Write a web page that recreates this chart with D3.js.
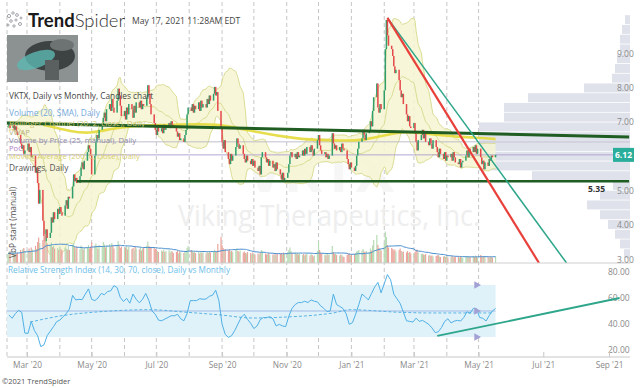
<!DOCTYPE html>
<html>
<head>
<meta charset="utf-8">
<script src="https://d3js.org/d3.v7.min.js"></script>
<style>
body { margin: 0; background: #fff; }
svg { display: block; font-family: "Open Sans", sans-serif; }
</style>
</head>
<body>
<div class="diagram"></div>
<script>
// daily closes, one row per week (first row starts Wed Feb 12 2020)
const closes = [
    6.95, 7.05, 6.90,
    7.00, 6.85, 6.95, 6.80, 6.70,
    6.45, 6.30, 6.40, 6.15, 6.25,
    6.45, 6.20, 6.35, 6.05, 6.10,
    5.60, 5.75, 5.30, 4.70, 5.10,
    4.20, 3.75, 3.60, 3.95, 3.70,
    3.85, 4.30, 4.15, 4.45, 4.25,
    4.55, 4.40, 4.60, 4.45, 4.35,
    4.65, 4.80, 4.55, 4.90, 4.85,
    5.20, 5.55, 5.35, 5.45, 5.30,
    5.50, 5.75, 5.90, 5.70, 5.95,
    6.20, 6.40, 6.30, 6.10, 5.55,
    6.10, 6.50, 6.70, 6.60, 6.85,
    6.95, 7.20, 7.35, 7.10, 7.45,
    7.60, 7.40, 7.75, 7.50, 7.35,
    7.70, 8.05, 7.85, 7.55, 7.25,
    7.40, 7.15, 7.50, 7.30, 7.60,
    7.45, 7.20, 7.55, 7.35, 7.65,
    7.50, 7.70, 7.45, 7.60, 7.55,
    7.80, 8.15, 7.90, 7.60, 7.30,
    7.05, 6.85, 6.70, 6.95, 6.80,
    6.90, 6.75, 7.00, 6.85, 6.95,
    7.05, 6.90, 7.10, 7.00, 6.95,
    6.80, 6.65, 6.75, 6.55, 6.60,
    6.50, 6.70, 6.85, 7.30, 7.50,
    7.40, 7.60, 7.35, 7.55, 7.45,
    7.65, 7.40, 7.70, 7.50, 7.60,
    7.50, 7.75, 7.60, 7.85, 7.70,
    7.90, 8.10, 7.85, 7.95, 7.40,
    6.90, 6.50, 6.30, 6.55, 6.20,
    6.00, 5.85, 6.15, 5.95, 6.10,
    6.35, 6.60, 6.45, 6.30, 6.40,
    6.15, 6.00, 5.90, 6.10, 5.95,
    5.85, 6.00, 5.80, 5.95, 5.75,
    5.65, 5.80, 5.55, 6.05, 6.20,
    6.05, 5.90, 6.00, 5.80, 5.95,
    5.75, 5.85, 5.65, 5.90, 5.70,
    5.55, 5.40, 5.60, 5.35, 5.45,
    5.60, 5.85, 6.10, 6.20, 6.05,
    6.15, 6.00, 6.20, 6.05, 6.10,
    6.25, 6.10, 6.30, 6.15, 6.35,
    6.20, 6.40, 6.25, 6.10, 6.30,
    6.55, 6.70, 6.40, 6.25, 6.15,
    6.20, 6.05, 6.15, 6.00, 6.10,
    6.75, 6.45, 6.30, 6.40, 6.25,
    6.35, 6.20, 6.45, 6.30, 6.25,
    6.00, 5.85, 5.70, 5.90, 5.75,
    5.65, 5.80, 6.10, 6.30, 6.50,
    6.60, 6.85, 6.70, 6.55, 6.75,
    6.80, 7.10, 6.95, 7.40, 7.80,
    8.20, 7.50, 7.35, 7.60, 7.45,
    8.00, 9.20, 10.05, 9.60, 9.30,
    9.20, 9.00, 8.70, 8.50, 8.60,
    8.30, 8.00, 7.80, 7.90, 7.60,
    7.30, 7.10, 7.25, 6.95, 6.90,
    7.05, 6.75, 6.50, 6.25, 6.55,
    6.70, 6.85, 6.60, 6.75, 6.50,
    6.40, 6.60, 6.45, 6.30, 6.55,
    6.35, 6.20, 6.05, 6.30, 6.15,
    6.00, 6.20, 5.95, 6.10, 6.05,
    6.15, 5.95, 6.20, 6.05, 5.90,
    5.85, 6.00, 5.75, 5.90, 5.95,
    6.10, 6.25, 6.05, 6.30, 6.20,
    6.35, 6.20, 6.40, 6.15, 6.30,
    6.05, 5.85, 5.95, 5.70, 5.90,
    5.80, 6.00, 5.95, 6.10, 6.05,
    6.12
];

// daily volume, millions
const volumes = [
    1.8, 2.2, 1.9,
    2.0, 1.7, 2.3, 1.9, 2.1,
    2.6, 2.2, 2.8, 3.0, 2.4,
    2.5, 2.9, 2.3, 3.1, 2.7,
    3.4, 2.8, 4.2, 5.1, 4.0,
    4.6, 5.3, 5.8, 4.4, 3.9,
    3.6, 4.1, 3.2, 3.5, 2.9,
    3.0, 2.6, 3.3, 2.8, 2.5,
    3.1, 2.9, 2.7, 3.4, 2.6,
    3.6, 4.0, 3.2, 2.9, 3.3,
    2.8, 3.5, 3.1, 2.7, 3.0,
    3.2, 3.6, 2.9, 3.3, 4.1,
    3.5, 3.9, 3.2, 2.8, 3.6,
    3.3, 4.2, 3.7, 3.1, 3.5,
    3.8, 3.2, 4.0, 3.4, 2.9,
    3.6, 4.4, 3.5, 3.0, 3.3,
    2.9, 3.1, 3.4, 2.7, 3.2,
    2.8, 3.0, 2.6, 3.3, 2.9,
    2.7, 3.2, 2.5, 2.9, 3.1,
    3.5, 4.3, 3.4, 3.0, 3.2,
    3.1, 2.8, 2.6, 2.4, 2.2,
    2.5, 2.3, 2.7, 2.2, 2.4,
    2.6, 2.1, 2.4, 2.3, 2.0,
    2.2, 2.5, 1.9, 2.3, 2.1,
    2.0, 2.4, 2.2, 3.0, 3.4,
    2.6, 2.4, 2.1, 2.3, 2.0,
    2.2, 1.9, 2.3, 2.0, 2.1,
    1.9, 2.2, 2.0, 2.4, 2.1,
    2.3, 2.6, 2.2, 2.4, 3.8,
    5.2, 3.6, 3.0, 2.6, 2.8,
    2.5, 2.7, 2.3, 2.4, 2.2,
    2.6, 2.9, 2.4, 2.2, 2.5,
    2.1, 2.3, 2.0, 1.9, 2.2,
    2.0, 1.8, 2.1, 1.9, 1.7,
    1.9, 1.7, 2.0, 2.6, 2.3,
    1.9, 1.7, 1.8, 2.0, 1.6,
    1.7, 1.5, 1.8, 1.6, 1.9,
    1.8, 2.0, 1.7, 2.1, 1.8,
    2.2, 2.6, 3.1, 2.4, 2.0,
    2.1, 1.8, 2.0, 1.7, 1.9,
    1.6, 1.8, 1.5, 1.7, 1.9,
    1.5, 1.8, 1.6, 1.3, 1.5,
    2.4, 4.3, 2.6, 2.1, 1.8,
    1.7, 1.5, 1.8, 1.6, 1.7,
    3.4, 2.2, 1.8, 1.9, 1.6,
    1.5, 1.7, 1.6, 1.3, 1.2,
    1.6, 1.8, 1.9, 1.5, 1.7,
    1.8, 2.0, 2.3, 2.4, 2.6,
    2.5, 2.8, 2.3, 2.1, 2.4,
    2.2, 2.9, 2.5, 3.5, 4.6,
    5.6, 3.6, 3.0, 2.8, 2.5,
    3.9, 6.3, 5.2, 3.6, 3.1,
    3.0, 2.8, 2.5, 2.7, 2.3,
    2.6, 2.9, 2.4, 2.2, 2.3,
    2.1, 2.4, 2.0, 2.2, 1.9,
    2.0, 2.2, 2.5, 2.7, 2.1,
    1.8, 1.9, 1.7, 1.6, 1.8,
    1.5, 1.6, 1.4, 1.5, 1.3,
    1.4, 1.5, 1.6, 1.3, 1.2,
    1.3, 1.4, 1.2, 1.3, 1.1,
    1.2, 1.4, 1.1, 1.2, 1.3,
    1.3, 1.1, 1.4, 1.2, 1.0,
    1.2, 1.4, 1.1, 1.3, 1.2,
    1.4, 1.2, 1.5, 1.3, 1.1,
    1.6, 1.3, 1.2, 1.4, 1.1,
    1.2, 1.0, 1.3, 1.2, 1.1,
    1.3
];

const rsiValues = [
    46.9, 44.4, 48, 50.5, 49, 33, 32.8, 42, 35, 31,
    22.6, 24, 31, 34.5, 38, 41.8, 43, 45.6, 48, 51.5,
    62, 58.5, 59, 58.7, 63, 67, 59, 58, 60, 63.5,
    62.5, 65, 65.5, 69.5, 68, 60.5, 57.3, 59.7, 56, 63,
    59, 56.3, 59, 63.5, 58, 50, 47.5, 43, 42.5, 43.8,
    45, 46.4, 46.3, 47.5, 44, 42.5, 48, 58, 58, 58,
    59.5, 59, 59.3, 61.3, 62.1, 66, 58, 40, 32, 29.7,
    31, 35, 40, 45, 47.5, 43.6, 40.5, 36.5, 38.5, 43.3,
    45, 45, 45.6, 44, 38.5, 39.7, 38.5, 38, 46, 52,
    55, 56.5, 56.5, 57.5, 56.5, 58.5, 57.5, 57, 54, 52,
    49.5, 50, 63, 55, 53.5, 52, 48, 39.8, 41, 47.5,
    55, 63, 61, 58.5, 63.5, 68.5, 72, 64, 71, 78,
    74, 63, 59.4, 55.8, 49.2, 42.5, 42, 41.5, 44.5, 42,
    42.8, 41.3, 39.7, 37, 33.4, 34, 37.3, 42, 44, 40.8,
    42.2, 42.8, 42.3, 45, 49.4, 48.3, 52, 51.7, 45, 44.4,
    42.3, 46.5, 50, 52
];

// monthly RSI (dashed)
const rsiMonthlyDates = ["2020-03-04", "2020-04-08", "2020-05-02", "2020-06-25", "2020-07-30", "2020-08-30",
    "2020-09-30", "2020-11-01", "2020-11-30", "2020-12-15", "2020-12-31", "2021-02-16", "2021-03-19", "2021-05-15"];
const rsiMonthlyValues = [41.5, 47, 49, 51, 49, 47, 44.6, 45.4, 47, 48.5, 51, 49, 48.5, 48.5];

// moving average (thick yellow)
const maDates = ["2020-03-16", "2020-04-11", "2020-04-29", "2020-05-18", "2020-06-06", "2020-07-19", "2020-08-28",
    "2020-10-02", "2020-11-12", "2020-12-07", "2021-01-07", "2021-01-23", "2021-02-08", "2021-02-21", "2021-03-11",
    "2021-04-12", "2021-05-07", "2021-05-17"];
const maValues = [7.00, 6.80, 6.74, 6.87, 6.97, 6.99, 7.05, 6.78, 6.58, 6.55, 6.52, 6.62, 6.74, 6.80, 6.74, 6.64, 6.61, 6.58];

// volume by price, 25 bins from vbpLow to vbpHigh
const vbpLow = 3.1, vbpHigh = 10.2;
const vbpVolumes = [6, 10, 15, 22, 30, 43, 30, 17, 98, 151, 151, 151, 151, 151, 126, 126, 102, 46, 18, 15, 13, 10, 10, 8, 5];

// drawings
const resistance = [["2020-02-09", 7.05], ["2021-09-20", 6.64]];
const support = [["2020-04-17", 5.35], ["2021-09-20", 5.35]];
const redTrend = [["2021-02-04", 10.11], ["2021-06-27", 2.97]];
const tealTrend = [["2021-02-04", 10.11], ["2021-07-23", 2.97]];
const rsiTrend = [["2021-03-23", 30.8], ["2021-09-11", 60]];
const priceLines = [6.50, 6.12];
const lastPrice = 6.12;
const supportLabel = "5.35";

const priceTicks = [3, 4, 5, 7, 8, 9];
const rsiTicks = [20, 40, 60, 80];
const monthTicks = ["2020-03-01", "2020-05-01", "2020-07-01", "2020-09-01", "2020-11-01",
    "2021-01-01", "2021-03-01", "2021-05-01", "2021-07-01", "2021-09-01"];

const legendLines = [
    { text: "VKTX, Daily vs Monthly, Candles chart", y: 99, color: "#444", size: 8.3 },
    { text: "Volume (20, SMA), Daily", y: 116, color: "#74a9dc", size: 8.3 },
    { text: "Bollinger Channel (20, 2, close), Daily", y: 126, color: "#cfc97a", size: 8 },
    { text: "VWAP", y: 135, color: "#b4b07c", size: 7.6 },
    { text: "Volume by Price (25, manual), Daily", y: 143, color: "#8f8aa6", size: 7.8 },
    { text: "PoC", y: 151, color: "#b27cc4", size: 7.6 },
    { text: "Moving Average (200, 0, close), Daily", y: 159, color: "#d8d070", size: 7.8 },
    { text: "Drawings, Daily", y: 171, color: "#555", size: 8.3 }
];

const parse = d3.timeParse("%Y-%m-%d");
const W = 640, H = 388;
const plotLeft = 7, plotRight = 630, priceTop = 8, priceBottom = 263, rsiBottom = 357;

const tradingDays = d3.timeDay.range(new Date(2020, 1, 12), new Date(2021, 4, 18))
    .filter(d => d.getDay() !== 0 && d.getDay() !== 6);
const n = Math.min(closes.length, tradingDays.length);
const candles = [];
for (let i = 0; i < n; i++) {
    candles.push({ date: tradingDays[i], open: i ? closes[i - 1] : closes[i], close: closes[i], volume: volumes[i] });
}

// bollinger + volume sma
const bands = candles.map((d, i) => {
    let win = closes.slice(Math.max(0, i - 19), i + 1);
    let m = d3.mean(win);
    let sd = Math.sqrt(d3.mean(win, v => (v - m) * (v - m)));
    return { date: d.date, mid: m, upper: m + 2 * sd, lower: m - 2 * sd };
});
const volSma = candles.map((d, i) => ({
    date: d.date,
    value: d3.mean(volumes.slice(Math.max(0, i - 19), i + 1))
}));

const x = d3.scaleTime().domain([new Date(2020, 2, 1), new Date(2021, 8, 1)]).range([27, 609]);
const y = d3.scaleLinear().domain([3, 9]).range([262, 56]);
const yRsi = d3.scaleLinear().domain([20, 80]).range([350, 272]);
const yVol = d3.scaleLinear().domain([0, 6.2]).range([263, 232]);
const vbpW = d3.scaleLinear().domain([0, d3.max(vbpVolumes)]).range([0, 151]);

const svg = d3.select(".diagram").append("svg").attr("width", W).attr("height", H);
const defs = svg.append("defs");
defs.append("clipPath").attr("id", "priceClip").append("rect")
    .attr("x", plotLeft).attr("y", priceTop).attr("width", plotRight - plotLeft).attr("height", priceBottom - priceTop);
defs.append("clipPath").attr("id", "rsiClip").append("rect")
    .attr("x", plotLeft).attr("y", priceBottom).attr("width", plotRight - plotLeft).attr("height", rsiBottom - priceBottom);

// month grid
const gridDates = d3.timeMonth.range(new Date(2020, 2, 1), new Date(2021, 5, 1));
svg.append("g").selectAll("line").data([null].concat(gridDates)).enter().append("line")
    .attr("x1", d => d ? x(d) : plotLeft).attr("x2", d => d ? x(d) : plotLeft)
    .attr("y1", 2).attr("y2", rsiBottom)
    .style("stroke", "#b8b8b8").style("stroke-width", 0.8).style("stroke-dasharray", "4,3");

// watermarks
svg.append("text").attr("x", 320).attr("y", 192).attr("text-anchor", "middle")
    .style("font-size", "58px").style("font-weight", "bold").style("fill", "#f6f6f6").text("VKTX");
svg.append("text").attr("x", 178).attr("y", 226).attr("textLength", 302).attr("lengthAdjust", "spacingAndGlyphs")
    .style("font-size", "30px").style("fill", "#eeeeee").text("Viking Therapeutics, Inc.");

const price = svg.append("g").attr("clip-path", "url(#priceClip)");

// volume by price
const binH = (vbpHigh - vbpLow) / vbpVolumes.length;
price.append("g").selectAll("rect").data(vbpVolumes).enter().append("rect")
    .attr("x", d => plotRight - vbpW(d))
    .attr("width", d => vbpW(d))
    .attr("y", (d, i) => y(vbpLow + binH * (i + 1)) + 0.4)
    .attr("height", (d, i) => y(vbpLow + binH * i) - y(vbpLow + binH * (i + 1)) - 0.8)
    .style("fill", "#dfe2eb");

// bollinger channel
price.append("path").datum(bands)
    .attr("d", d3.area().x(d => x(d.date)).y0(d => y(d.lower)).y1(d => y(d.upper)))
    .style("fill", "#f6f4d2").style("fill-opacity", 0.85);
["upper", "mid", "lower"].forEach(k => {
    price.append("path").datum(bands)
        .attr("d", d3.line().x(d => x(d.date)).y(d => y(d[k])))
        .style("fill", "none").style("stroke", "#d6d98a").style("stroke-width", 0.9);
});

// legend texts
svg.append("g").selectAll("text").data(legendLines).enter().append("text")
    .attr("x", 9).attr("y", d => d.y)
    .style("font-size", d => d.size + "px").style("fill", d => d.color).text(d => d.text);
svg.append("text").attr("transform", "translate(16,258) rotate(-90)")
    .style("font-size", "8.3px").style("fill", "#555").text("VbP start (manual)");

// thin horizontal lines
price.append("g").selectAll("line").data(priceLines).enter().append("line")
    .attr("x1", plotLeft).attr("x2", plotRight).attr("y1", d => y(d)).attr("y2", d => y(d))
    .style("stroke", (d, i) => i ? "#ab9cd0" : "#b9b6c8").style("stroke-width", 0.9);

// moving average
price.append("path").datum(maDates.map((d, i) => ({ date: parse(d), value: maValues[i] })))
    .attr("d", d3.line().curve(d3.curveBasis).x(d => x(d.date)).y(d => y(d.value)))
    .style("fill", "none").style("stroke", "#e4da3a").style("stroke-width", 2.6).style("stroke-opacity", 0.9);

// candles
price.append("g").selectAll("rect").data(candles).enter().append("rect")
    .attr("x", d => x(d.date) - 0.75)
    .attr("width", 1.5)
    .attr("y", d => y(Math.max(d.open, d.close)))
    .attr("height", d => Math.max(1, Math.abs(y(d.open) - y(d.close))))
    .style("fill", d => d.close >= d.open ? "#2f9e6b" : "#e5484b");

// volume
price.append("g").selectAll("rect").data(candles).enter().append("rect")
    .attr("x", d => x(d.date) - 0.6)
    .attr("width", 1.2)
    .attr("y", d => yVol(d.volume))
    .attr("height", d => yVol(0) - yVol(d.volume))
    .style("fill", d => d.close >= d.open ? "#b7dcb4" : "#eba59d");
price.append("path").datum(volSma)
    .attr("d", d3.line().x(d => x(d.date)).y(d => yVol(d.value)))
    .style("fill", "none").style("stroke", "#4b8fcf").style("stroke-width", 1);

// drawings
const drawLine = (g, pts, yScale, color, width) => {
    g.append("line")
        .attr("x1", x(parse(pts[0][0]))).attr("y1", yScale(pts[0][1]))
        .attr("x2", x(parse(pts[1][0]))).attr("y2", yScale(pts[1][1]))
        .style("stroke", color).style("stroke-width", width);
};
drawLine(price, resistance, y, "#1f5d22", 3);
drawLine(price, support, y, "#1f5d22", 2.4);
drawLine(price, tealTrend, y, "#2ea68b", 1.5);
drawLine(price, redTrend, y, "#e8413b", 2.2);

// rsi pane
const rsiG = svg.append("g").attr("clip-path", "url(#rsiClip)");
const rsiStart = new Date(2020, 1, 13), rsiEnd = new Date(2021, 4, 17);
const rsiStep = (rsiEnd - rsiStart) / (rsiValues.length - 1);
const rsiData = rsiValues.map((v, i) => ({ date: new Date(+rsiStart + i * rsiStep), value: v }));
rsiG.append("rect").attr("x", plotLeft).attr("width", x(rsiEnd) - plotLeft)
    .attr("y", yRsi(70)).attr("height", yRsi(30) - yRsi(70)).style("fill", "#dff2f9");
rsiG.append("line").attr("x1", plotLeft).attr("x2", x(rsiEnd)).attr("y1", yRsi(50)).attr("y2", yRsi(50))
    .style("stroke", "#a4b9e6").style("stroke-width", 1);
rsiG.append("path").datum(rsiMonthlyDates.map((d, i) => ({ date: parse(d), value: rsiMonthlyValues[i] })))
    .attr("d", d3.line().curve(d3.curveMonotoneX).x(d => x(d.date)).y(d => yRsi(d.value)))
    .style("fill", "none").style("stroke", "#5ab4e4").style("stroke-width", 1).style("stroke-dasharray", "3,2");
rsiG.append("path").datum(rsiData)
    .attr("d", d3.line().x(d => x(d.date)).y(d => yRsi(d.value)))
    .style("fill", "none").style("stroke", "#4fb0e6").style("stroke-width", 1);
rsiG.selectAll(".mark").data([70, 50, 30]).enter().append("path")
    .attr("transform", d => "translate(" + (x(new Date(2021, 3, 30)) - 1) + "," + yRsi(d) + ") rotate(90)")
    .attr("d", d3.symbol(d3.symbolTriangle).size(26))
    .style("fill", "#a3a0d6");

// axes lines
svg.append("line").attr("x1", plotLeft).attr("x2", plotRight).attr("y1", priceBottom).attr("y2", priceBottom)
    .style("stroke", "#cfcfcf").style("stroke-width", 1);

// price axis
const priceAxis = svg.append("g").attr("transform", "translate(615,0)")
    .call(d3.axisRight(y).tickValues(priceTicks).tickFormat(d3.format(".2f")).tickSize(0).tickPadding(2));
priceAxis.select(".domain").remove();
priceAxis.selectAll("text").attr("dy", "0").style("font-size", "8.5px").style("fill", "#8a8a8a")
    .style("font-family", "'Open Sans', sans-serif");

// rsi axis
const rsiAxis = svg.append("g").attr("transform", "translate(606,0)")
    .call(d3.axisRight(yRsi).tickValues(rsiTicks).tickFormat(d3.format(".2f")).tickSize(0).tickPadding(2));
rsiAxis.select(".domain").remove();
rsiAxis.selectAll("text").style("font-size", "8.5px").style("fill", "#8a8a8a")
    .style("font-family", "'Open Sans', sans-serif");

drawLine(svg, rsiTrend, yRsi, "#2ea68b", 1.8);

// time axis
const timeAxis = svg.append("g").attr("transform", "translate(0," + rsiBottom + ")")
    .call(d3.axisBottom(x).tickValues(monthTicks.map(parse)).tickFormat(d3.timeFormat("%b '%y"))
        .tickSize(-5).tickPadding(5));
timeAxis.select(".domain").attr("d", "M" + plotLeft + ",0H" + plotRight).style("stroke", "#c8c8c8");
timeAxis.selectAll(".tick line").style("stroke", "#c8c8c8");
timeAxis.selectAll("text").style("font-size", "8.3px").style("fill", "#8a8a8a")
    .style("font-family", "'Open Sans', sans-serif");

// last price + support labels
svg.append("rect").attr("x", 613).attr("y", y(lastPrice) - 7).attr("width", 21).attr("height", 14)
    .style("fill", "#2aae9b");
svg.append("text").attr("x", 623.5).attr("y", y(lastPrice) + 3).attr("text-anchor", "middle")
    .style("font-size", "8.5px").style("font-weight", "bold").style("fill", "#fff").text(d3.format(".2f")(lastPrice));
svg.append("text").attr("x", 588).attr("y", y(support[0][1]) + 11)
    .style("font-size", "8.5px").style("font-weight", "bold").style("fill", "#333").text(supportLabel);

// rsi legend
svg.append("text").attr("x", 8).attr("y", 273).style("font-size", "8.2px").style("fill", "#6cc0ea")
    .text("Relative Strength Index (14, 30, 70, close), Daily vs Monthly");

// header: logo, thumbnail, timestamp
const logo = svg.append("g");
[[9, 16, 1.6], [13, 13, 1.2], [17, 15, 1.4], [11, 21, 1.3], [16, 20, 1.1], [20, 24, 1.5], [14, 26, 1.2], [21, 18, 1.0], [8, 25, 1.0]]
    .forEach(c => logo.append("circle").attr("cx", c[0]).attr("cy", c[1]).attr("r", c[2])
        .style("fill", "none").style("stroke", "#8a8f99").style("stroke-width", 0.8));
const brand = svg.append("text").attr("x", 28).attr("y", 27).style("font-size", "18.5px").style("font-family", "Lato, sans-serif");
brand.append("tspan").style("font-weight", "bold").style("fill", "#1a1a1a").text("Trend");
brand.append("tspan").style("font-weight", "300").style("fill", "#333").text("Spider");
svg.append("text").attr("x", 132).attr("y", 24).style("font-size", "8.6px").style("fill", "#444")
    .text("May 17, 2021 11:28AM EDT");

const thumb = svg.append("g");
thumb.append("rect").attr("x", 7).attr("y", 35).attr("width", 71).attr("height", 47).style("fill", "#8c9292");
thumb.append("ellipse").attr("cx", 50).attr("cy", 56).attr("rx", 25).attr("ry", 15).style("fill", "#3d4242");
thumb.append("ellipse").attr("cx", 36).attr("cy", 60).attr("rx", 20).attr("ry", 8)
    .attr("transform", "rotate(-20,36,60)").style("fill", "#5cb8b2").style("opacity", 0.8);
thumb.append("rect").attr("x", 45).attr("y", 60).attr("width", 14).attr("height", 20).style("fill", "#5a5f5f");
thumb.append("ellipse").attr("cx", 62).attr("cy", 45).attr("rx", 12).attr("ry", 6).style("fill", "#6d7373");

svg.append("text").attr("x", 2).attr("y", 384).style("font-size", "7.5px").style("fill", "#555")
    .text("\u00a92021 TrendSpider");
</script>
</body>
</html>
